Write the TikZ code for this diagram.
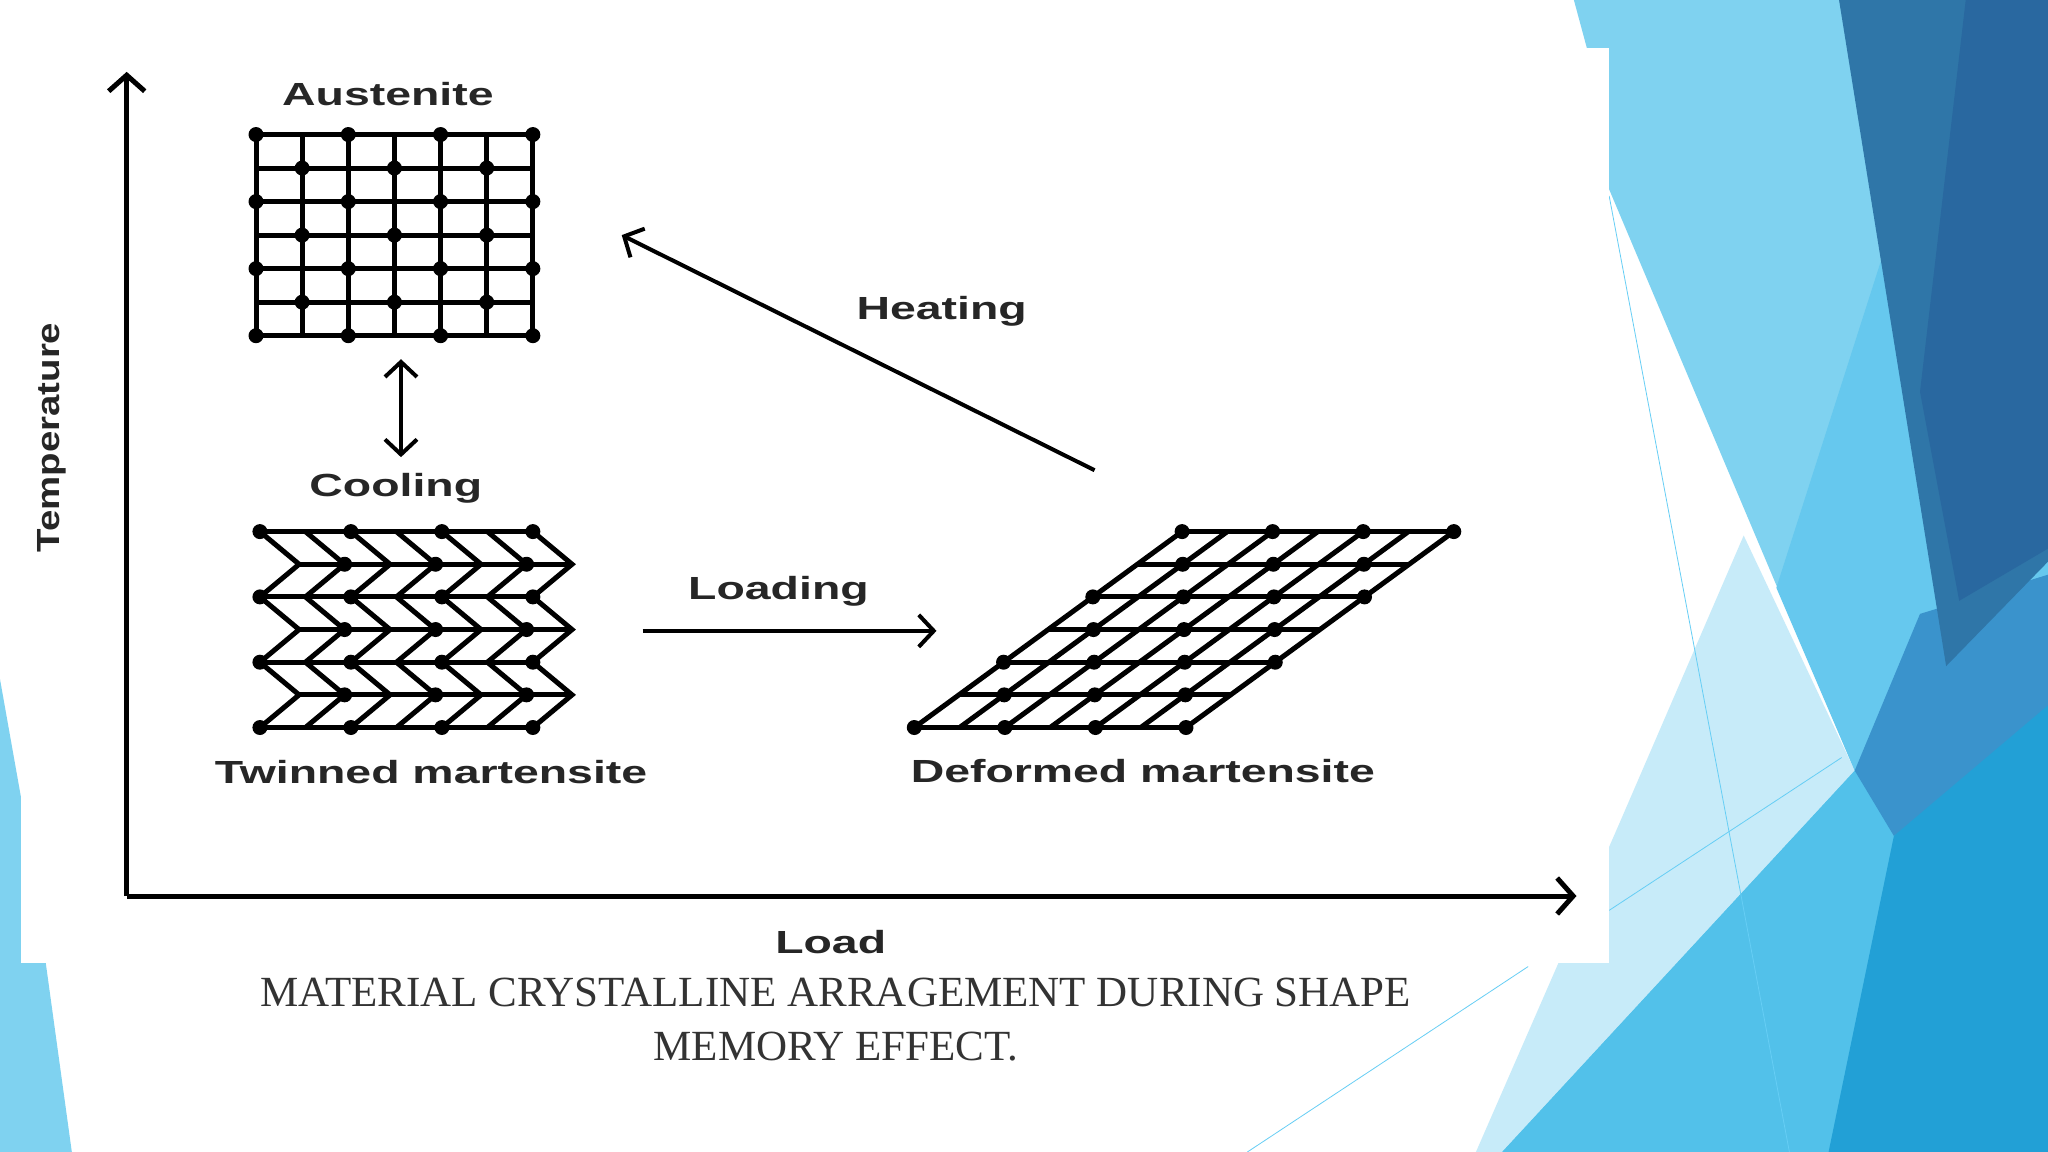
\documentclass[tikz,border=0pt]{standalone}
\usepackage{fontspec}
\setmainfont{Liberation Serif}
\setsansfont{Liberation Sans}
\usetikzlibrary{arrows.meta}
\definecolor{bgLight}{HTML}{7FD2F0}
\definecolor{bgPale}{HTML}{C7EBF9}
\definecolor{bgMid}{HTML}{66C8EE}
\definecolor{bgBot}{HTML}{52C1EA}
\definecolor{bgMed}{HTML}{22A0D6}
\definecolor{bgDark}{HTML}{2F76A8}
\definecolor{bgDarker}{HTML}{2968A0}
\definecolor{bgJoin}{HTML}{3A93CC}
\newcommand{\wideTxt}[1]{\scalebox{1.45}[1]{#1}}
\tikzset{
 lbl/.style={font=\sffamily\bfseries\fontsize{32}{36}\selectfont, text=black!85},
 captext/.style={font=\fontsize{43}{50}\selectfont, text=black!80, align=center},
 ln/.style={line width=5pt, black},
 dot/.style={circle, fill=black, inner sep=0pt, minimum size=15pt},
 axis/.style={line width=5pt, -{Straight Barb[length=16pt,width=36pt,line width=5pt]}},
 arr/.style={line width=4pt, -{Straight Barb[length=15pt,width=32pt,line width=4pt]}},
 darr/.style={line width=4pt, {Straight Barb[length=15pt,width=32pt,line width=4pt]}-{Straight Barb[length=15pt,width=32pt,line width=4pt]}}
}
\begin{document}
\begin{tikzpicture}[x=1.306pt,y=-1.306pt]
\useasboundingbox (0,0) rectangle (1568,882);
\fill[white] (0,0) rectangle (1568,882);
% background decoration
\fill[bgLight] (1205,0) -- (1568,0) -- (1568,882) -- (1150,882) -- (1420,590) -- (1232,145) -- (1232,37) -- (1215,37) -- cycle;
\fill[bgPale] (1335,410) -- (1420,590) -- (1150,882) -- (1130,882) -- (1240,630) -- cycle;
\fill[bgMid] (1440,200) -- (1568,60) -- (1568,700) -- (1420,590) -- (1360,450) -- cycle;
\fill[bgBot] (1150,882) -- (1420,590) -- (1568,470) -- (1568,882) -- cycle;
\fill[bgJoin] (1420,590) -- (1470,470) -- (1568,440) -- (1568,560) -- (1450,640) -- cycle;
\fill[bgMed] (1450,640) -- (1568,540) -- (1568,882) -- (1400,882) -- cycle;
\fill[bgDark] (1408,0) -- (1568,0) -- (1568,430) -- (1490,510) -- cycle;
\fill[bgDarker] (1505,0) -- (1568,0) -- (1568,420) -- (1500,460) -- (1470,300) -- cycle;
\draw[cyan!60, line width=0.8pt] (1232,150) -- (1370,882);
\draw[cyan!60, line width=0.8pt] (1170,740) -- (955,882);
\draw[cyan!60, line width=0.8pt] (1232,697) -- (1410,580);
\fill[bgLight] (0,520) -- (16,610) -- (16,737) -- (35,737) -- (55,882) -- (0,882) -- cycle;
% image panel
\fill[white] (16,37) rectangle (1232,737);

% axes
\coordinate (O) at (97,686);
\coordinate (ytop) at (97,55);
\coordinate (xend) at (1207,686);
\draw[axis] (O) -- (ytop);
\draw[axis] (O) -- (xend);
\node[lbl, rotate=90] (temp) at (40,335) {\scalebox{1.2}[1]{Temperature}};
\node[lbl] (load) at (636,721) {\wideTxt{Load}};

% Austenite grid
\node[lbl] (aus) at (297,72) {\wideTxt{Austenite}};
\begin{scope}[shift={(196,103)}]
\foreach \i in {0,...,6}{
  \draw[ln] (\i*35.33,0) -- (\i*35.33,154);
  \draw[ln] (0,\i*25.67) -- (212,\i*25.67);}
\foreach \i in {0,...,6}{\foreach \j in {0,...,6}{
  \pgfmathparse{int(mod(\i+\j,2))}
  \ifnum\pgfmathresult=0 \node[dot] at (\i*35.33,\j*25.67) {};\fi}}
\end{scope}
\coordinate (ausS) at (307,275);
\coordinate (twN) at (307,350);
\draw[darr] (ausS) -- (twN);
\node[lbl] (cool) at (303,374) {\wideTxt{Cooling}};

% Twinned martensite
\begin{scope}[shift={(199,407)}]
\foreach \r in {0,2,4,6}{\draw[ln] (0,\r*25) -- (209,\r*25);}
\foreach \r in {1,3,5}{\draw[ln] (30,\r*25) -- (240,\r*25);}
\foreach \k in {0,...,6}{
  \draw[ln] (\k*34.83,0) -- (\k*34.83+30,25) -- (\k*34.83,50) -- (\k*34.83+30,75) -- (\k*34.83,100) -- (\k*34.83+30,125) -- (\k*34.83,150);}
\foreach \r in {0,2,4,6}{\foreach \k in {0,2,4,6}{\node[dot] at (\k*34.83,\r*25) {};}}
\foreach \r in {1,3,5}{\foreach \k in {1,3,5}{\node[dot] at (\k*34.83+30,\r*25) {};}}
\end{scope}
\node[lbl] (twin) at (330,591) {\wideTxt{Twinned martensite}};

% Loading
\coordinate (lA) at (492,483);
\coordinate (lB) at (717,483);
\draw[arr] (lA) -- (lB);
\node[lbl] (loading) at (596,453) {\wideTxt{Loading}};

% Deformed martensite
\begin{scope}[shift={(700,557)}]
\foreach \i in {0,...,6}{
  \draw[ln] (\i*34.67,0) -- (\i*34.67+205,-150);
  \draw[ln] (\i*34.17,-\i*25) -- (\i*34.17+208,-\i*25);}
\foreach \i in {0,...,6}{\foreach \j in {0,...,6}{
  \pgfmathparse{int(mod(\i+\j,2))}
  \ifnum\pgfmathresult=0 \node[dot] at (\i*34.67+\j*34.17,-\j*25) {};\fi}}
\end{scope}
\node[lbl] (def) at (875,590) {\wideTxt{Deformed martensite}};

% Heating
\coordinate (hA) at (838,360);
\coordinate (hB) at (476,180);
\draw[arr] (hA) -- (hB);
\node[lbl] (heat) at (721,238) {\wideTxt{Heating}};

% caption
\node[captext] (c1) at (640,760) {MATERIAL CRYSTALLINE ARRAGEMENT DURING SHAPE};
\node[captext] (c2) at (640,801) {MEMORY EFFECT.};
\end{tikzpicture}
\end{document}
